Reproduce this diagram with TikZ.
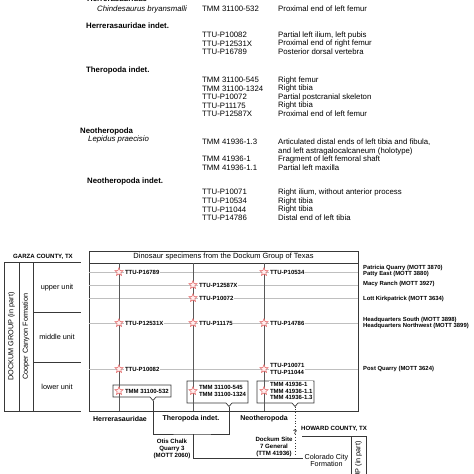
\documentclass[tikz,border=0pt]{standalone}
\usepackage{fontspec}
\setmainfont{Liberation Sans}
\usepackage{xcolor}
\usetikzlibrary{shapes.geometric}
\definecolor{framegray}{gray}{0.22}
\definecolor{linegray}{gray}{0.35}
\definecolor{levelgray}{gray}{0.75}
\definecolor{starred}{RGB}{225,90,90}

\begin{document}
\begin{tikzpicture}[x=1pt, y=-1pt, %specimen table and Dockum chart
  tabtext/.style={anchor=west, inner sep=0, font=\fontsize{7.8}{9}\selectfont},
  taxon/.style={tabtext, font=\bfseries\fontsize{7.8}{9}\selectfont},
  species/.style={tabtext, font=\itshape\fontsize{7.8}{9}\selectfont},
  frame/.style={draw=framegray, line width=0.9pt},
  lineage/.style={draw=linegray, line width=1pt},
  level/.style={draw=levelgray, line width=0.5pt},
  unitlab/.style={inner sep=0, font=\fontsize{7.3}{8.5}\selectfont},
  countylab/.style={inner sep=0, font=\bfseries\fontsize{6.1}{7}\selectfont},
  clade/.style={inner sep=0, font=\bfseries\fontsize{7}{8}\selectfont},
  sitelab/.style={anchor=west, inner sep=0, align=left, font=\bfseries\fontsize{5.9}{6.6}\selectfont},
  speclab/.style={anchor=west, inner sep=0.8pt, fill=white, align=left, font=\bfseries\fontsize{6}{6.8}\selectfont},
  sstar/.style={star, star points=5, star point ratio=2.2, minimum size=8.5pt, inner sep=0, draw=starred, fill=red!6, line width=0.5pt}]
\useasboundingbox (0,0) rectangle (474,474);

% table of specimens
\node[taxon] (herr) at (87,-1) {Herrerasauridae};
\node[species] (chin) at (97,9) {Chindesaurus bryansmalli};
\node[taxon] (herrind) at (86,26) {Herrerasauridae indet.};
\node[taxon] (thind) at (86,70) {Theropoda indet.};
\node[taxon] (neo) at (80,131) {Neotheropoda};
\node[species] (lep) at (88,139) {Lepidus praecisio};
\node[taxon] (neoind) at (87,181) {Neotheropoda indet.};
\foreach \y/\spec/\desc [count=\i] in {
  9/TMM 31100-532/Proximal end of left femur,
  35/TTU-P10082/{Partial left ilium, left pubis},
  43.5/TTU-P12531X/Proximal end of right femur,
  52/TTU-P16789/Posterior dorsal vertebra,
  80/TMM 31100-545/Right femur,
  88.5/TMM 31100-1324/Right tibia,
  97/TTU-P10072/Partial postcranial skeleton,
  105.5/TTU-P11175/Right tibia,
  114/TTU-P12587X/Proximal end of left femur,
  142/TMM 41936-1.3/{Articulated distal ends of left tibia and fibula,},
  159/TMM 41936-1/Fragment of left femoral shaft,
  167.5/TMM 41936-1.1/Partial left maxilla,
  192/TTU-P10071/{Right ilium, without anterior process},
  201/TTU-P10534/Right tibia,
  209.5/TTU-P11044/Right tibia,
  218/TTU-P14786/Distal end of left tibia}
{
  \node[tabtext] (spec\i) at (202,\y) {\spec};
  \node[tabtext] (desc\i) at (278,\y) {\desc};
}
\node[tabtext] (desc10b) at (278,151) {and left astragalocalcaneum (holotype)};

% Garza County column
\node[countylab] (garza) at (43,257) {GARZA COUNTY, TX};
\draw[frame] (4,262) -- (81,262) (4,411) -- (81,411) (33,312) -- (81,312) (33,362) -- (81,362);
\foreach \x in {4,19,33} \draw[frame] (\x,262) -- (\x,411);
\node[unitlab, rotate=90] (dockum) at (11.5,336.5) {DOCKUM GROUP (in part)};
\node[unitlab, rotate=90] (cooper) at (26,336.5) {Cooper Canyon Formation};
\node[unitlab] (upper) at (57,288) {upper unit};
\node[unitlab] (middle) at (57,337) {middle unit};
\node[unitlab] (lower) at (57,387) {lower unit};

% chart frame, levels and lineages
\draw[frame] (89,251) rectangle (358,411);
\draw[frame] (89,263) -- (358,263);
\node[inner sep=0, font=\fontsize{7.5}{8.5}\selectfont] (title) at (223.5,257) {Dinosaur specimens from the Dockum Group of Texas};
\foreach \y in {272,285,298,323,369} \draw[level] (89,\y) -- (358,\y);
\foreach \x in {119,193,264} \draw[lineage] (\x,263) -- (\x,411);

% specimen boxes with notches
\foreach \l/\t/\r/\b/\n in {113/385/171/397/153, 187/381/248/403/229, 257/381/314/403/295}
  \draw[frame, line width=0.7pt, fill=white] (\n,\b+3.5) -- (\n-3,\b) -- (\l,\b) -- (\l,\t) -- (\r,\t) -- (\r,\b) -- (\n+3,\b) -- cycle;
\foreach \x in {119,193,264} \draw[lineage] (\x,381) -- (\x,411);
\coordinate (tip532) at (153,400.5);
\coordinate (tip545) at (229,406.5);
\coordinate (tip41936) at (295,406.5);

% stars and specimen numbers
\foreach \x/\y/\name in {119/272/TTU-P16789, 264/272/TTU-P10534, 193/285/TTU-P12587X,
  193/298/TTU-P10072, 119/323/TTU-P12531X, 193/323/TTU-P11175, 264/323/TTU-P14786,
  119/369/TTU-P10082, 264/369/{TTU-P10071\\TTU-P11044}, 119/391/TMM 31100-532,
  193/391/{TMM 31100-545\\TMM 31100-1324}, 264/391/{TMM 41936-1\\TMM 41936-1.1\\TMM 41936-1.3}}
{
  \node[sstar] (s-\x-\y) at (\x,\y) {};
  \node[speclab] (l-\x-\y) at (\x+5,\y) {\name};
}

% localities
\node[sitelab] (patricia) at (363,271) {Patricia Quarry (MOTT 3870)\\Patty East (MOTT 3880)};
\node[sitelab] (macy) at (363,284) {Macy Ranch (MOTT 3927)};
\node[sitelab] (lott) at (363,299) {Lott Kirkpatrick (MOTT 3634)};
\node[sitelab] (hq) at (363,323) {Headquarters South (MOTT 3898)\\Headquarters Northwest (MOTT 3899)};
\node[sitelab] (post) at (363,369) {Post Quarry (MOTT 3624)};

% clades
\node[clade] (herrc) at (120,419) {Herrerasauridae};
\node[clade] (theroc) at (191,419) {Theropoda indet.};
\node[clade] (neoc) at (264,419) {Neotheropoda};

% Otis Chalk and Dockum Site 7
\coordinate (otis) at (193,434);
\coordinate (colo) at (303,458);
\draw[frame, line width=0.7pt] (tip532) |- (otis) -| (tip545);
\draw[frame, line width=0.7pt] (otis) |- (colo);
\node[countylab, align=center, font=\bfseries\fontsize{6.1}{6.6}\selectfont] (otislab) at (172,449) {Otis Chalk\\Quarry 3\\(MOTT 2060)};
\node[countylab, align=center, font=\bfseries\fontsize{6.1}{7}\selectfont] (site7) at (274,447) {Dockum Site\\7 General\\(TTM 41936)};
\node[countylab, font=\bfseries\fontsize{6.5}{7}\selectfont] (qmark) at (295,432) {?};
\coordinate (site7end) at (295,455);
\draw[framegray, line width=0.9pt, dash pattern=on 1pt off 1.8pt] (tip41936) -- (qmark.north);
\draw[framegray, line width=0.9pt, dash pattern=on 1pt off 1.8pt] (qmark.south) -- (site7end);

% Howard County column
\node[countylab] (howard) at (334,429) {HOWARD COUNTY, TX};
\draw[frame] (302,436) -- (367,436);
\foreach \x in {351,366} \draw[frame] (\x,436) -- (\x,480);
\node[unitlab, align=center, font=\fontsize{7.2}{7.4}\selectfont] (colorado) at (326.5,460.5) {Colorado City\\Formation};
\node[unitlab, rotate=90, anchor=east] (dockum2) at (358.5,441) {DOCKUM GROUP (in part)};
\end{tikzpicture}
\end{document}
